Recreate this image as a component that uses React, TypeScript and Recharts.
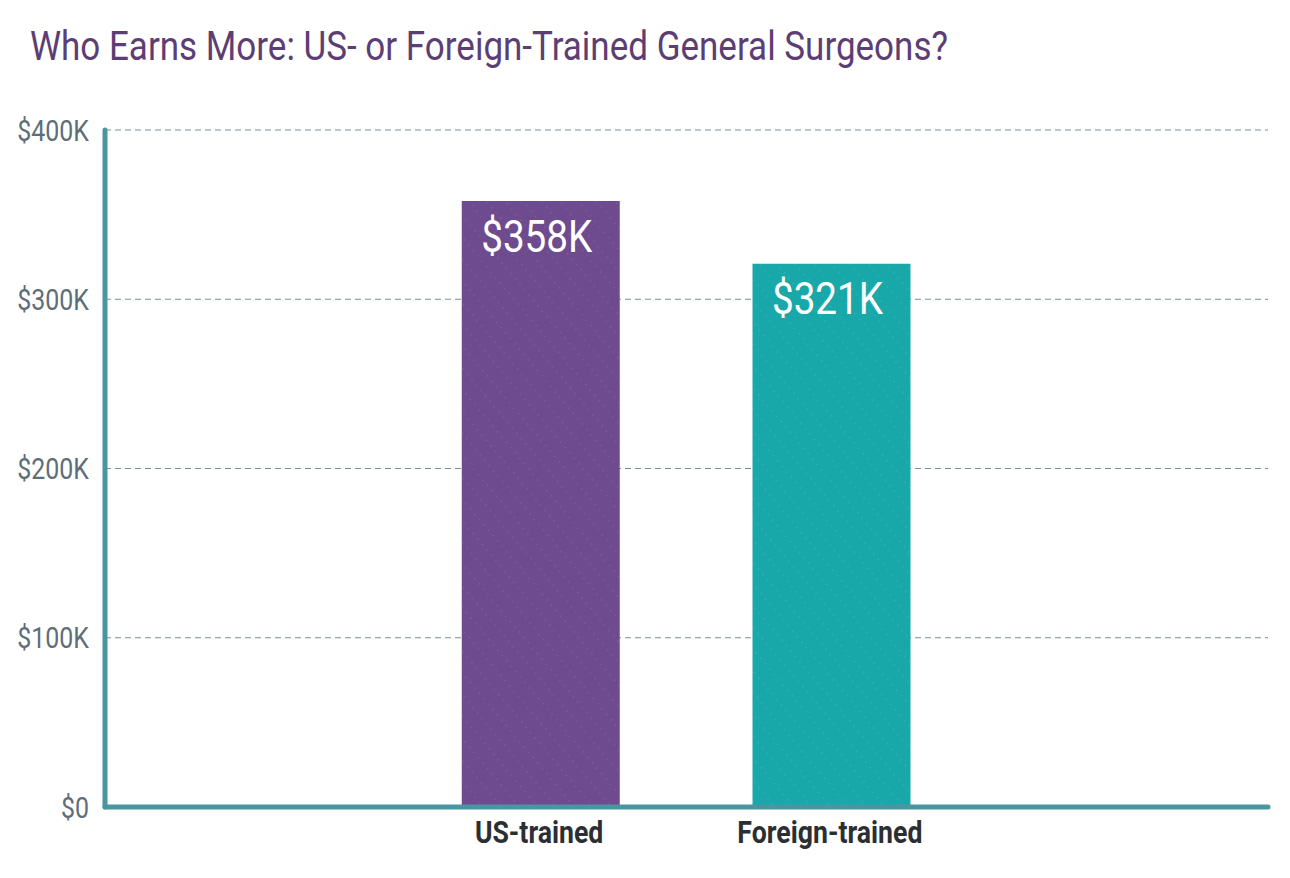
import { BarChart, Bar, XAxis, YAxis, CartesianGrid, Cell, LabelList } from "recharts"

// values in $K; blank outer slots keep the bars centred like the original
const categories = ["", "US-trained", "Foreign-trained", " "]
const earnings = [null, 358, 321, null]
const yTicks = [0, 100, 200, 300, 400]

const BAR_FILLS = ["none", "url(#dotsPurple)", "url(#dotsTeal)", "none"]

const data = categories.map((c, i) => ({ category: c, value: earnings[i] }))

const FONT = "Roboto, 'Open Sans', sans-serif"
const SQUEEZE = 0.86

function money(v: number) {
  return v === 0 ? "$0" : `$${v}K`
}

function YTick(props: any) {
  const { x, y, payload } = props
  return (
    <text
      transform={`translate(${x - 8},${y + 1}) scale(${SQUEEZE},1)`}
      textAnchor="end"
      dominantBaseline="central"
      fontFamily={FONT}
      fontSize={29}
      fill="#5d6e79"
    >
      {money(payload.value)}
    </text>
  )
}

function XTick(props: any) {
  const { x, y, payload } = props
  return (
    <text
      transform={`translate(${x - 2},${y + 17}) scale(${SQUEEZE},1)`}
      textAnchor="middle"
      dominantBaseline="central"
      fontFamily={FONT}
      fontWeight={700}
      fontSize={31}
      fill="#2b2f34"
    >
      {payload.value}
    </text>
  )
}

function ValueLabel(props: any) {
  const { x, y, width, value } = props
  if (value == null) return null
  return (
    <text
      transform={`translate(${x + width / 2 - 4},${y + 35}) scale(${SQUEEZE},1)`}
      textAnchor="middle"
      dominantBaseline="central"
      fontFamily={FONT}
      fontSize={45}
      fill="#ffffff"
    >
      {money(value)}
    </text>
  )
}

function Pattern({ id, base }: { id: string; base: string }) {
  return (
    <pattern id={id} width="14" height="14" patternUnits="userSpaceOnUse" patternTransform="rotate(50)">
      <rect width="14" height="14" fill={base} />
      <line x1="0" y1="7" x2="14" y2="7" stroke="#ffffff" strokeOpacity={0.22} strokeWidth={1} strokeDasharray="1 6" />
    </pattern>
  )
}

export default function App() {
  return (
    <div style={{ position: "absolute", left: 0, top: 0, width: 1290, height: 878, background: "#fff" }}>
      <svg width={1290} height={80} style={{ position: "absolute", left: 0, top: 0 }}>
        <text
          x={30}
          y={46}
          dominantBaseline="central"
          fontFamily={FONT}
          fontSize={41}
          fill="#5b3e74"
          textLength={918}
          lengthAdjust="spacingAndGlyphs"
        >
          Who Earns More: US- or Foreign-Trained General Surgeons?
        </text>
      </svg>
      <div style={{ position: "absolute", left: -2, top: 0 }}>
        <BarChart
          width={1290}
          height={878}
          data={data}
          margin={{ top: 130, right: 20, left: 0, bottom: 0 }}
        >
          <defs>
            <Pattern id="dotsPurple" base="#6e4a8e" />
            <Pattern id="dotsTeal" base="#19a8a9" />
          </defs>
          <CartesianGrid vertical={false} stroke="#7b8d97" strokeDasharray="6 4" strokeWidth={1} />
          <XAxis
            dataKey="category"
            interval={0}
            height={71}
            tickLine={false}
            axisLine={{ stroke: "#4a96a0", strokeWidth: 5, strokeLinecap: "round" }}
            tick={<XTick />}
          />
          <YAxis
            width={107}
            domain={[0, 400]}
            ticks={yTicks}
            tickLine={false}
            axisLine={{ stroke: "#4a96a0", strokeWidth: 5, strokeLinecap: "round" }}
            tick={<YTick />}
          />
          <Bar dataKey="value" barSize={158} isAnimationActive={false}>
            {data.map((_, i) => (
              <Cell key={i} fill={BAR_FILLS[i]} />
            ))}
            <LabelList dataKey="value" content={<ValueLabel />} />
          </Bar>
        </BarChart>
      </div>
    </div>
  )
}
